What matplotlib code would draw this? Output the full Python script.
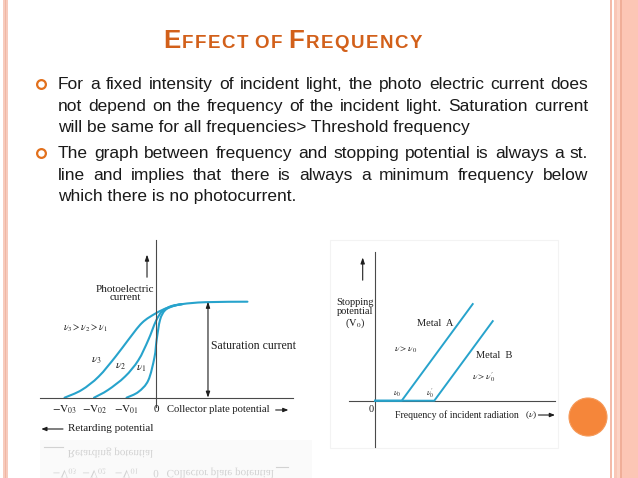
import matplotlib
matplotlib.use('Agg')
import matplotlib.pyplot as plt
from matplotlib.patches import Rectangle, Circle, PathPatch
from matplotlib.path import Path
from matplotlib.textpath import TextPath
from matplotlib.font_manager import FontProperties
from matplotlib.transforms import Affine2D

plt.rcParams['mathtext.fontset'] = 'stix'

# ---------------- data ----------------
title_parts = [("E", "big"), ("FFECT", "small"), (" ", "gap"), ("OF", "small"),
               (" ", "gap"), ("F", "big"), ("REQUENCY", "small")]
bullet1 = ["For a fixed intensity of incident light, the photo electric current does",
           "not depend on the frequency of the incident light. Saturation current",
           "will be same for all frequencies> Threshold frequency"]
bullet2 = ["The graph between frequency and stopping potential is always a st.",
           "line and implies that there is always a minimum frequency below",
           "which there is no photocurrent."]

# left graph: photoelectric current vs collector potential
nu3_x = [-2.95, -2.4, -1.85, -1.3, -0.9, -0.45, 0.0, 0.4, 0.85, 1.6, 2.95]
nu3_y = [0.0, 0.08, 0.22, 0.43, 0.60, 0.78, 0.88, 0.94, 0.975, 0.995, 1.0]
nu2_x = [-2.0, -1.55, -1.0, -0.57, -0.25, 0.0, 0.2, 0.5, 0.85]
nu2_y = [0.0, 0.08, 0.22, 0.39, 0.60, 0.80, 0.90, 0.955, 0.975]
nu1_x = [-0.95, -0.57, -0.25, -0.05, 0.02, 0.13, 0.29, 0.56, 0.85]
nu1_y = [0.0, 0.06, 0.18, 0.42, 0.60, 0.81, 0.91, 0.955, 0.975]
stop_pos = [-2.95, -1.99, -0.95, 0.0]
stop_labels = [r'$-\mathrm{V}_{03}$', r'$-\mathrm{V}_{02}$', r'$-\mathrm{V}_{01}$', '0']

# right graph: stopping potential vs frequency
metalA_f = [0.0, 1.0, 3.66]
metalA_v = [0.0, 0.0, 3.62]
metalB_f = [0.0, 2.22, 4.41]
metalB_v = [0.0, 0.0, 2.98]

# ---------------- figure ----------------
W, H = 638, 478
fig = plt.figure(figsize=(W / 100, H / 100), dpi=100)
fig.patch.set_facecolor('white')
bg = fig.add_axes([0, 0, 1, 1])
bg.set_xlim(0, W)
bg.set_ylim(H, 0)
bg.axis('off')
R = fig.canvas.get_renderer()

# borders
bg.add_patch(Rectangle((3, 0), 4.5, H, color='#f7cbbd', lw=0))
bg.add_patch(Rectangle((4.8, 0), 1.0, H, color='#f0b7a4', lw=0))
stripes = [(610, 2, '#f4bba9'), (612, 2, '#ffffff'), (614, 3, '#f9c7b7'),
           (617, 3, '#fcd3c5'), (620, 2, '#f0ae98'), (622, 16, '#fcc6b5')]
for x, w, c in stripes:
    bg.add_patch(Rectangle((x, 0), w, H, color=c, lw=0))
bg.add_patch(Circle((588, 417), 19, facecolor='#f5863a', edgecolor='#f59a5a', lw=0.8))

# title (small caps, placed char by char with tracking)
ORANGE = '#d2601a'
T_X0, T_X1, T_Y = 163, 422, 48
chars = []
for s, kind in title_parts:
    if kind == "gap":
        chars.append((None, 0))
        continue
    for ch in s:
        fs = 18.6 if kind == "big" else 13.5
        t = bg.text(0, T_Y, ch, fontsize=fs, family='Liberation Sans', weight='bold',
                    color=ORANGE, va='baseline', ha='left')
        chars.append((t, t.get_window_extent(R).width))
GAP = 5.0
nat = sum(w for _, w in chars) + GAP * sum(1 for t, _ in chars if t is None)
ntr = len([c for c in chars if c[0] is not None]) - 1
track = (T_X1 - T_X0 - nat) / ntr
x = T_X0
for t, w in chars:
    if t is None:
        x += GAP
        continue
    t.set_x(x)
    x += w + track

# body text
FS = 12.5
TXT = '#1a1a1a'
X0, X1 = 58, 588


def body_line(s, y, justify):
    if not justify:
        bg.text(X0, y, s, fontsize=FS, family='Liberation Sans', color=TXT,
                va='baseline', ha='left')
        return
    words = s.split(' ')
    ts = [bg.text(0, y, w, fontsize=FS, family='Liberation Sans', color=TXT,
                  va='baseline', ha='left') for w in words]
    widths = [t.get_window_extent(R).width for t in ts]
    gap = (X1 - X0 - sum(widths)) / (len(words) - 1)
    xx = X0
    for t, w in zip(ts, widths):
        t.set_x(xx)
        xx += w + gap


def bullet(y):
    bg.plot([41], [y - 5.5], marker='o', ms=6.3, mfc='none', mec='#e2701c', mew=1.6)


bullet(89)
for i, (s, j) in enumerate(zip(bullet1, [True, True, False])):
    body_line(s, 89 + 21.6 * i, j)
bullet(158.3)
for i, (s, j) in enumerate(zip(bullet2, [True, True, False])):
    body_line(s, 158.3 + 21.6 * i, j)

# ---------------- left graph ----------------
BLUE = '#27a3cc'
AX = '#4a4a4a'
INK = '#1e1e1e'
SERIF = 'Liberation Serif'
SFS = 8.0


def px_axes(x0, y0, x1, y1, xlim, ylim):
    ax = fig.add_axes([x0 / W, 1 - y1 / H, (x1 - x0) / W, (y1 - y0) / H])
    ax.set_xlim(*xlim)
    ax.set_ylim(*ylim)
    ax.axis('off')
    ax.patch.set_alpha(0)
    return ax


def smooth_curve(ax, xs, ys, **kw):
    """Draw a smooth (Catmull-Rom as cubic Bezier) line through the read points."""
    pts = list(zip(xs, ys))
    n = len(pts)
    verts = [pts[0]]
    codes = [Path.MOVETO]
    for i in range(n - 1):
        p0 = pts[max(i - 1, 0)]
        p1 = pts[i]
        p2 = pts[i + 1]
        p3 = pts[min(i + 2, n - 1)]
        c1 = (p1[0] + (p2[0] - p0[0]) / 6, p1[1] + (p2[1] - p0[1]) / 6)
        c2 = (p2[0] - (p3[0] - p1[0]) / 6, p2[1] - (p3[1] - p1[1]) / 6)
        verts += [c1, c2, p2]
        codes += [Path.CURVE4] * 3
    ax.add_patch(PathPatch(Path(verts, codes), facecolor='none', **kw))


# px = 156 + 31 x ; py = 397.7 - 96 y
L = px_axes(30, 230, 310, 478, ((30 - 156) / 31, (310 - 156) / 31),
            ((397.7 - 478) / 96, (397.7 - 230) / 96))
L.plot([0, 0], [-0.1, 1.645], color=AX, lw=0.8)
L.plot([-3.74, 4.42], [0, 0], color=AX, lw=0.8)
for xs, ys in [(nu3_x, nu3_y), (nu2_x, nu2_y), (nu1_x, nu1_y)]:
    smooth_curve(L, xs, ys, edgecolor=BLUE, lw=1.5, capstyle='round', joinstyle='round')
L.annotate('', xy=(-0.29, 1.52), xytext=(-0.29, 1.226),
           arrowprops=dict(arrowstyle='-|>,head_length=0.35,head_width=0.12', color=INK, lw=0.8))
L.annotate('', xy=(1.677, 0.0), xytext=(1.677, 1.0),
           arrowprops=dict(arrowstyle='<|-|>,head_length=0.35,head_width=0.12', color=INK, lw=0.8,
                           shrinkA=0, shrinkB=0))
L.text(-1.0, 1.085, 'Photoelectric\ncurrent', ha='center', va='center', family=SERIF,
       fontsize=SFS, linespacing=0.95, color=INK)
L.text(1.774, 0.539, 'Saturation current', ha='left', va='center', family=SERIF,
       fontsize=8.5, color=INK)
L.text(-3.0, 0.726, r'$\nu_3 > \nu_2 > \nu_1$', ha='left', va='center', fontsize=7.0, color=INK)
L.text(-1.91, 0.39, r'$\nu_3$', ha='center', va='center', fontsize=SFS, color=INK)
L.text(-1.14, 0.33, r'$\nu_2$', ha='center', va='center', fontsize=SFS, color=INK)
L.text(-0.48, 0.31, r'$\nu_1$', ha='center', va='center', fontsize=SFS, color=INK)
for p, lab in zip(stop_pos, stop_labels):
    L.text(p, -0.128, lab, ha='center', va='center', fontsize=SFS, family=SERIF, color=INK)
L.text(0.355, -0.128, 'Collector plate potential', ha='left', va='center', family=SERIF,
       fontsize=7.7, color=INK)
L.annotate('', xy=(4.27, -0.128), xytext=(3.86, -0.128),
           arrowprops=dict(arrowstyle='-|>,head_length=0.3,head_width=0.12', color=INK, lw=0.8,
                           shrinkA=0, shrinkB=0))
L.annotate('', xy=(-3.7, -0.326), xytext=(-3.0, -0.326),
           arrowprops=dict(arrowstyle='-|>,head_length=0.3,head_width=0.12', color=INK, lw=0.8,
                           shrinkA=0, shrinkB=0))
L.text(-2.84, -0.326, 'Retarding potential', ha='left', va='center', family=SERIF,
       fontsize=SFS, color=INK)

# faint reflection below the left graph
bg.add_patch(Rectangle((40, 440), 272, 38, facecolor='#fafafa', edgecolor='none'))
MIR = '#d2d2d2'
fp = FontProperties(family=SERIF)
SPX = SFS * 100 / 72


def mirror(s, xc, yb, ha='center'):
    tp = TextPath((0, 0), s, size=SPX, prop=fp)
    bb = tp.get_extents()
    if ha == 'center':
        dx = xc - (bb.x0 + bb.x1) / 2
    else:
        dx = xc - bb.x0
    tr = Affine2D().translate(dx, yb)
    bg.add_patch(PathPatch(tr.transform_path(tp), facecolor=MIR, edgecolor='none'))


mirror('Retarding potential', 68, 450, ha='left')
bg.plot([44, 63], [447, 447], color=MIR, lw=0.8)
for p, lab in zip(stop_pos, stop_labels):
    mirror(lab, 156 + 31 * p, 470)
mirror('Collector plate potential', 167, 470, ha='left')
bg.plot([276, 288], [467, 467], color=MIR, lw=0.8)

# ---------------- right graph ----------------
# px = 375 + 26.7 x ; py = 400.7 - 26.7 y
Rg = px_axes(325, 235, 562, 452, ((325 - 375) / 26.7, (562 - 375) / 26.7),
             ((400.7 - 452) / 26.7, (400.7 - 235) / 26.7))
Rg.add_patch(Rectangle(((330 - 375) / 26.7, (400.7 - 448) / 26.7), 228 / 26.7, 208 / 26.7,
                       facecolor='none', edgecolor='#f3f3f3', lw=0.8))
Rg.plot([0, 0], [-1.734, 5.57], color=AX, lw=0.8)
Rg.plot([-0.974, 6.742], [0, 0], color=AX, lw=0.8)
Rg.plot(metalA_f, metalA_v, color=BLUE, lw=1.4)
Rg.plot(metalB_f, metalB_v, color=BLUE, lw=1.4)
Rg.annotate('', xy=(-0.461, 5.47), xytext=(-0.461, 4.41),
            arrowprops=dict(arrowstyle='-|>,head_length=0.35,head_width=0.12', color=INK, lw=0.8))
Rg.text(-0.749, 3.247, 'Stopping\npotential\n' + r'($\mathrm{V}_0$)', ha='center', va='center',
        family=SERIF, fontsize=7.5, linespacing=1.05, color=INK)
Rg.text(-0.16, -0.348, '0', ha='center', va='center', family=SERIF, fontsize=7.5, color=INK)
Rg.text(2.247, 2.873, 'Metal  A', ha='center', va='center', family=SERIF, fontsize=7.5, color=INK)
Rg.text(4.457, 1.711, 'Metal  B', ha='center', va='center', family=SERIF, fontsize=7.5, color=INK)
Rg.text(1.146, 1.9, r'$\nu > \nu_0$', ha='center', va='center', fontsize=6.8, color=INK)
Rg.text(4.08, 0.888, r"$\nu > \nu_0'$", ha='center', va='center', fontsize=6.8, color=INK)
Rg.text(0.82, 0.25, r'$\nu_0$', ha='center', va='center', fontsize=5.8, color=INK)
Rg.text(2.06, 0.29, r"$\nu_0'$", ha='center', va='center', fontsize=5.8, color=INK)
Rg.text(0.749, -0.536, 'Frequency of incident radiation', ha='left', va='center',
        family=SERIF, fontsize=7.0, color=INK)
Rg.text(5.84, -0.536, r'($\nu$)', ha='center', va='center', family=SERIF, fontsize=6.8, color=INK)
Rg.annotate('', xy=(6.74, -0.536), xytext=(6.12, -0.536),
            arrowprops=dict(arrowstyle='-|>,head_length=0.3,head_width=0.12', color=INK, lw=0.8,
                            shrinkA=0, shrinkB=0))

fig.savefig('out.png', dpi=100, facecolor='white')
